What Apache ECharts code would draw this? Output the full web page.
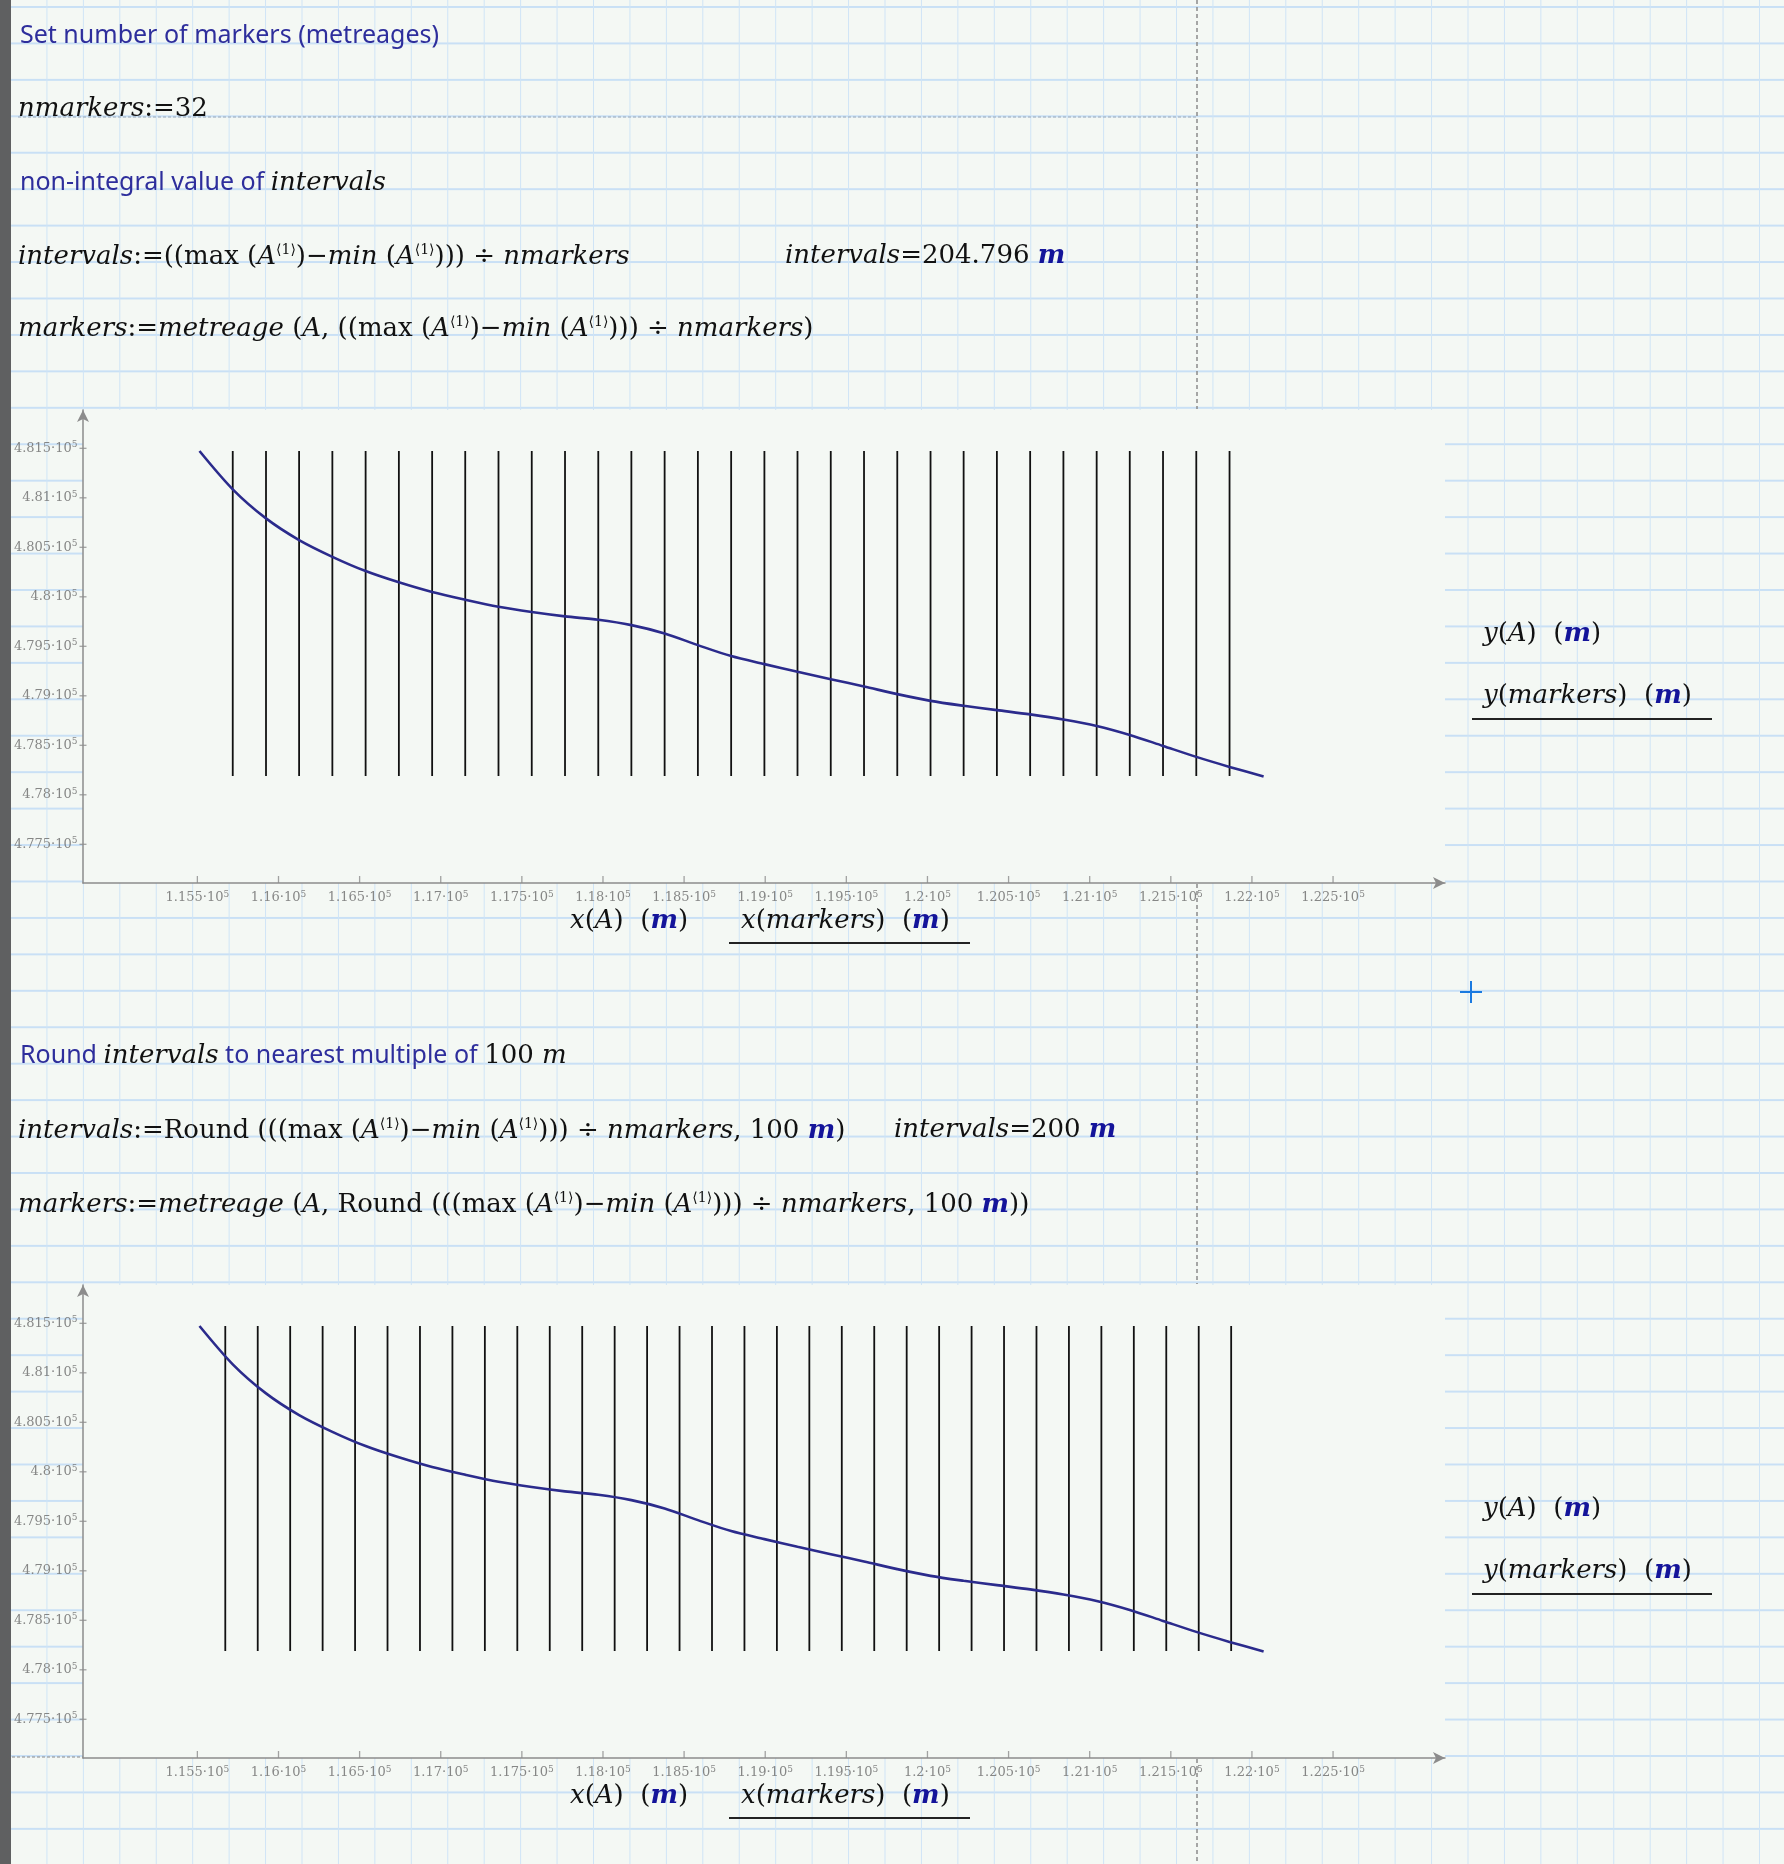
<!DOCTYPE html>
<html>
<head>
<meta charset="utf-8" />
<title>metreage markers</title>
<script src="https://cdn.jsdelivr.net/npm/echarts@6/dist/echarts.min.js"></script>
<style>
  html, body { margin: 0; padding: 0; }
  #main {
    width: 1784px; height: 1864px;
    background-color: #f4f8f4;
    background-image:
      linear-gradient(to right, #cfe4f6 1px, transparent 1px),
      linear-gradient(to bottom, #c9e0f5 2px, transparent 2px);
    background-size: 36.45px 36.45px;
    background-position: 10px 6px;
  }
  #strip { position: absolute; left: 0; top: 0; width: 11px; height: 1864px; background: #5f6061; z-index: 5; }
</style>
</head>
<body>
<div id="strip"></div>
<div id="main"></div>
<script type="text/javascript">
// x / y of the curve A (start, at each 204.8 m marker, end)
var curveX = [115513, 115718, 115923, 116127, 116332, 116537, 116742, 116947, 117151, 117356,
  117561, 117766, 117971, 118175, 118380, 118585, 118790, 118995, 119199, 119404,
  119609, 119814, 120019, 120223, 120428, 120633, 120838, 121043, 121247, 121452,
  121657, 121862, 122072];
var curveY = [481473, 481086, 480792, 480573, 480404, 480260, 480146, 480048, 479970, 479899,
  479846, 479802, 479768, 479714, 479630, 479512, 479401, 479320, 479242, 479168,
  479094, 479017, 478949, 478899, 478855, 478812, 478761, 478696, 478605, 478494,
  478383, 478282, 478185];
// marker positions, intervals = 204.796 m
var markersA = [115718, 115923, 116127, 116332, 116537, 116742, 116947, 117151, 117356, 117561,
  117766, 117971, 118175, 118380, 118585, 118790, 118995, 119199, 119404, 119609,
  119814, 120019, 120223, 120428, 120633, 120838, 121043, 121247, 121452, 121657, 121862];
// marker positions, intervals = 200 m
var markersB = [115672, 115872, 116072, 116272, 116472, 116672, 116872, 117072, 117272, 117472,
  117672, 117872, 118072, 118272, 118472, 118672, 118872, 119072, 119272, 119472,
  119672, 119872, 120072, 120272, 120472, 120672, 120872, 121072, 121272, 121472, 121672, 121872];
var markerTop = 481473, markerBottom = 478191;
var xTicks = [115500, 116000, 116500, 117000, 117500, 118000, 118500, 119000, 119500, 120000,
  120500, 121000, 121500, 122000, 122500];
var yTicks = [477500, 478000, 478500, 479000, 479500, 480000, 480500, 481000, 481500];
var xMin = 114795, xMax = 123190, yMin = 477109, yMax = 481887;

var myChart = echarts.init(document.getElementById('main'));

var serif = '"DejaVu Serif", "Liberation Serif", serif';
var tickRich = {
  a: { fontFamily: serif, fontSize: 13, color: '#6a6a6a' },
  s: { fontFamily: serif, fontSize: 9, color: '#6a6a6a', verticalAlign: 'top', padding: [0, 0, 7, 0] }
};
function sci(v) {
  return '{a|' + String(+(v / 1e5).toFixed(4)) + '·10}{s|5}';
}

var FS = 26;
var mathRich = {
  i: { fontFamily: serif, fontStyle: 'italic', fontSize: FS, fill: '#111' },
  r: { fontFamily: serif, fontSize: FS, fill: '#111' },
  m: { fontFamily: serif, fontStyle: 'italic', fontWeight: 'bold', fontSize: FS, fill: '#14149a' },
  s: { fontFamily: serif, fontSize: 14, fill: '#111', verticalAlign: 'top', padding: [0, 0, 14, 0] },
  t: { fontFamily: '"Noto Sans", sans-serif', fontSize: 25, fill: '#2e2e9c' }
};
var A1 = '{r|(}{i|A}{s|⟨1⟩}{r|)}';
var range = '{r|(max }' + A1 + '{r|−}{i|min }' + A1 + '{r|)}';

function txt(x, y, s) {
  return { type: 'text', left: x, top: y - 12, z: 10, style: { text: s, rich: mathRich } };
}
function hline(x1, x2, y, w, c, dash) {
  return { type: 'line', z: 10, shape: { x1: x1, y1: y, x2: x2, y2: y },
    style: { stroke: c, lineWidth: w, lineDash: dash || null } };
}
function vline(x, y1, y2) {
  return { type: 'line', z: 1, shape: { x1: x, y1: y1, x2: x, y2: y2 },
    style: { stroke: '#8a8a8a', lineWidth: 1.5, lineDash: [4, 3] } };
}

var grids = [
  { left: 83, top: 410, width: 1362, height: 473 },
  { left: 83, top: 1285, width: 1362, height: 473 }
];
var option = {
  animation: false,
  grid: grids.map(function (g) {
    return { left: g.left, top: g.top, width: g.width, height: g.height, show: true,
      backgroundColor: '#f4f8f4', borderWidth: 0 };
  }),
  xAxis: [0, 1].map(function (i) {
    return { type: 'value', gridIndex: i, min: xMin, max: xMax, splitLine: { show: false },
      axisTick: { show: false }, axisLabel: { show: false },
      axisLine: { onZero: false, symbol: ['none', 'arrow'], symbolSize: [9, 12], lineStyle: { color: '#8c8c8c', width: 1.5 } } };
  }),
  yAxis: [0, 1].map(function (i) {
    return { type: 'value', gridIndex: i, min: yMin, max: yMax, splitLine: { show: false },
      axisTick: { show: false }, axisLabel: { show: false },
      axisLine: { show: true, onZero: false, symbol: ['none', 'arrow'], symbolSize: [9, 12], lineStyle: { color: '#8c8c8c', width: 1.5 } } };
  }),
  series: [],
  graphic: []
};

[markersA, markersB].forEach(function (markers, i) {
  option.series.push({
    type: 'custom', xAxisIndex: i, yAxisIndex: i, z: 3,
    data: markers.map(function (x) { return [x, markerTop, markerBottom]; }),
    renderItem: function (params, api) {
      var p1 = api.coord([api.value(0), api.value(1)]);
      var p2 = api.coord([api.value(0), api.value(2)]);
      return { type: 'line', shape: { x1: p1[0], y1: p1[1], x2: p2[0], y2: p2[1] },
        style: { stroke: '#111', lineWidth: 1.8 } };
    }
  });
  option.series.push({
    type: 'line', xAxisIndex: i, yAxisIndex: i, z: 4, smooth: 0.3, showSymbol: false,
    data: curveX.map(function (x, k) { return [x, curveY[k]]; }),
    lineStyle: { color: '#2b2b8c', width: 2.6 }
  });
  option.series.push({
    type: 'scatter', xAxisIndex: i, yAxisIndex: i, z: 5, silent: true,
    symbol: 'rect', symbolSize: [1.3, 7], symbolOffset: [0, -3.5],
    itemStyle: { color: '#8c8c8c' },
    data: xTicks.map(function (x) { return [x, yMin]; }),
    label: { show: true, position: 'bottom', distance: 7, rich: tickRich,
      formatter: function (p) { return sci(p.value[0]); } }
  });
  option.series.push({
    type: 'scatter', xAxisIndex: i, yAxisIndex: i, z: 5, silent: true,
    symbol: 'rect', symbolSize: [7, 1.3],
    itemStyle: { color: '#8c8c8c' },
    data: yTicks.map(function (y) { return [xMin, y]; }),
    label: { show: true, position: 'left', distance: 2, rich: tickRich,
      formatter: function (p) { return sci(p.value[1]); } }
  });
});

var g = option.graphic;
// dotted page-break line (hidden behind the plots)
g.push(vline(1197, 0, 409));
g.push(vline(1197, 884, 1284));
g.push(vline(1197, 1759, 1864));
g.push(hline(18, 1197, 117, 1.2, '#9aa8b8', [3, 2]));
g.push(hline(12, 83, 1757, 1.2, '#8a8a8a', [3, 2]));

g.push(txt(20, 35, '{t|Set number of markers (metreages)}'));
g.push(txt(18, 108, '{i|nmarkers}{r|:=32}'));
g.push(txt(20, 182, '{t|non-integral value of }{i|intervals}'));
g.push(txt(18, 255, '{i|intervals}{r|:=(}' + range + '{r|) ÷ }{i|nmarkers}'));
g.push(txt(785, 255, '{i|intervals}{r|=204.796 }{m|m}'));
g.push(txt(18, 327, '{i|markers}{r|:=}{i|metreage }{r|(}{i|A}{r|, (}' + range + '{r|) ÷ }{i|nmarkers}{r|)}'));

g.push(txt(20, 1055, '{t|Round }{i|intervals}{t| to nearest multiple of }{r|100 }{i|m}'));
g.push(txt(18, 1129, '{i|intervals}{r|:=Round ((}' + range + '{r|) ÷ }{i|nmarkers}{r|, 100 }{m|m}{r|)}'));
g.push(txt(894, 1129, '{i|intervals}{r|=200 }{m|m}'));
g.push(txt(18, 1203, '{i|markers}{r|:=}{i|metreage }{r|(}{i|A}{r|, Round ((}' + range + '{r|) ÷ }{i|nmarkers}{r|, 100 }{m|m}{r|))}'));

[0, 875].forEach(function (dy) {
  g.push(txt(1483, 633 + dy, '{i|y}{r|(}{i|A}{r|)  (}{m|m}{r|)}'));
  g.push(txt(1483, 695 + dy, '{i|y}{r|(}{i|markers}{r|)  (}{m|m}{r|)}'));
  g.push(hline(1472, 1712, 719 + dy, 2, '#222'));
  g.push(txt(570, 920 + dy, '{i|x}{r|(}{i|A}{r|)  (}{m|m}{r|)}'));
  g.push(txt(741, 920 + dy, '{i|x}{r|(}{i|markers}{r|)  (}{m|m}{r|)}'));
  g.push(hline(729, 970, 943 + dy, 2, '#222'));
});
// cursor cross
g.push({ type: 'line', z: 10, shape: { x1: 1460, y1: 992, x2: 1482, y2: 992 }, style: { stroke: '#1a7ae0', lineWidth: 2 } });
g.push({ type: 'line', z: 10, shape: { x1: 1471, y1: 981, x2: 1471, y2: 1003 }, style: { stroke: '#1a7ae0', lineWidth: 2 } });

myChart.setOption(option);
</script>
</body>
</html>
